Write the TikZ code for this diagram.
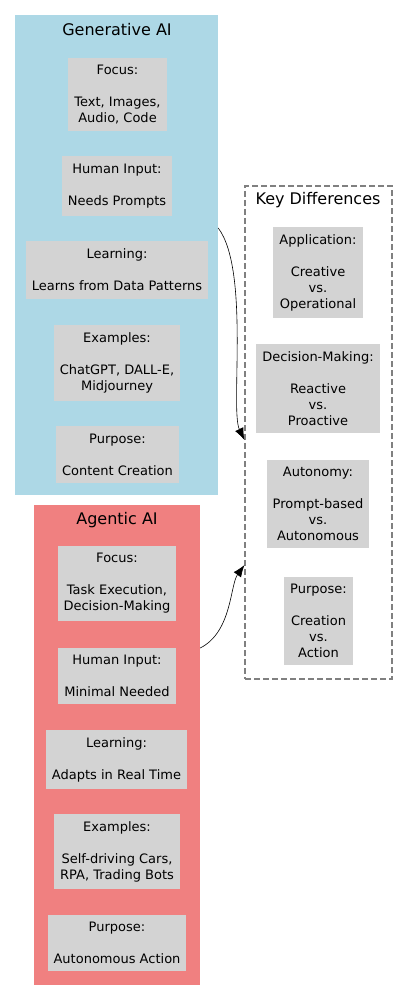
\documentclass[tikz,border=0pt]{standalone}
\usepackage{fontspec}
\setmainfont{DejaVu Sans}
\usetikzlibrary{arrows.meta}
\definecolor{genblue}{HTML}{ADD8E6}
\definecolor{agred}{HTML}{F08080}
\definecolor{cellgray}{HTML}{D3D3D3}
\begin{document}
\begin{tikzpicture}[x=1pt,y=-1pt,
    cell/.style={fill=cellgray, align=center, inner xsep=6pt, inner ysep=7.5pt,
      font=\fontsize{13}{16}\selectfont},
    ttl/.style={font=\fontsize{16}{18}\selectfont},
    link/.style={-{Latex[length=12pt,width=9pt]}, semithick}]
        \useasboundingbox (0,0) rectangle (408,1000);
        % Draw the two panels and the dashed box
        \node[fill=genblue, minimum width=203, minimum height=480, inner sep=0] (gen) at (116.5,255) {};
        \node[fill=agred, minimum width=166, minimum height=480, inner sep=0] (agt) at (117,745) {};
        \node[draw=gray, dash pattern=on 6pt off 3pt, line width=1.1pt, minimum width=147, minimum height=493, inner sep=0] (keys) at (318.5,432.5) {};
        \node[ttl] (gentitle) at (117,30) {Generative AI};
        \node[ttl] (agttitle) at (117,520) {Agentic AI};
        \node[ttl] (keytitle) at (318,200) {Key Differences};
        % Generative AI cells
        \node[cell] (gfocus) at (117.5,94.5) {Focus:\\[16pt]Text, Images,\\Audio, Code};
        \node[cell] (ginput) at (117,186) {Human Input:\\[16pt]Needs Prompts};
        \node[cell] (glearn) at (117,270) {Learning:\\[16pt]Learns from Data Patterns};
        \node[cell] (gex) at (117,363) {Examples:\\[16pt]ChatGPT, DALL-E,\\Midjourney};
        \node[cell] (gpurp) at (117.5,454.5) {Purpose:\\[16pt]Content Creation};
        % Agentic AI cells
        \node[cell] (afocus) at (117,583.5) {Focus:\\[16pt]Task Execution,\\Decision-Making};
        \node[cell] (ainput) at (117,676) {Human Input:\\[16pt]Minimal Needed};
        \node[cell] (alearn) at (116.5,759.5) {Learning:\\[16pt]Adapts in Real Time};
        \node[cell] (aex) at (117,851.5) {Examples:\\[16pt]Self-driving Cars,\\RPA, Trading Bots};
        \node[cell] (apurp) at (117,943) {Purpose:\\[16pt]Autonomous Action};
        % Key differences cells
        \node[cell] (kapp) at (318,272.5) {Application:\\[16pt]Creative\\vs.\\Operational};
        \node[cell] (kdec) at (318,388.5) {Decision-Making:\\[16pt]Reactive\\vs.\\Proactive};
        \node[cell] (kaut) at (318,504) {Autonomy:\\[16pt]Prompt-based\\vs.\\Autonomous};
        \node[cell] (kpurp) at (318.5,621) {Purpose:\\[16pt]Creation\\vs.\\Action};
        % Connect the panels to the key differences
        \draw[link] (gen.east |- 0,228) .. controls (250,270) and (230,410) .. (keys.west |- 0,440);
        \draw[link] (agt.east |- 0,648) .. controls (232,632) and (230,585) .. (keys.west |- 0,565);
\end{tikzpicture}
\end{document}
